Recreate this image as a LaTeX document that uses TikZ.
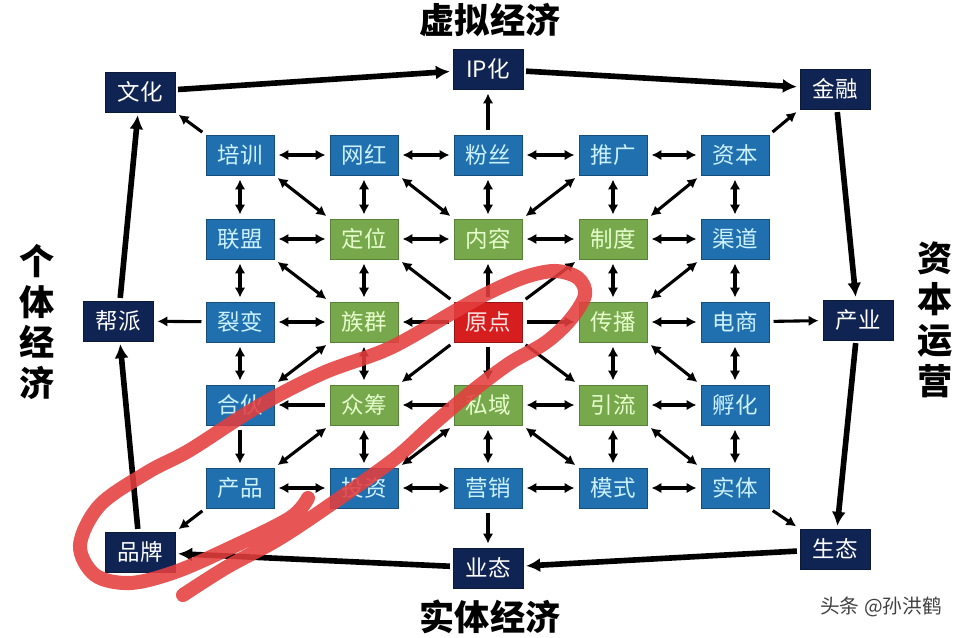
\documentclass[tikz,border=0pt]{standalone}
\usepackage{fontspec}
\setmainfont{Noto Sans CJK SC}
\usetikzlibrary{arrows.meta}

\definecolor{navyfill}{RGB}{16,36,84}
\definecolor{bluefill}{RGB}{32,112,176}
\definecolor{greenfill}{RGB}{120,168,76}
\definecolor{greenedge}{RGB}{88,130,56}
\definecolor{redfill}{RGB}{214,30,30}
\definecolor{bluetext}{RGB}{205,242,255}
\definecolor{greentext}{RGB}{230,255,205}
\definecolor{scribblered}{RGB}{228,62,62}

\tikzset{
  cell/.style={minimum width=1.7cm,minimum height=1cm,inner sep=0pt,
    font=\fontsize{16}{18}\selectfont},
  outerbox/.style={cell,minimum width=1.75cm,fill=navyfill,draw=navyfill!70!black,text=white},
  bluebox/.style={cell,fill=bluefill,draw=bluefill!70!black,text=bluetext},
  greenbox/.style={cell,fill=greenfill,draw=greenedge,text=greentext},
  redbox/.style={cell,fill=redfill,draw=redfill!70!black,text=white!90!red},
  link/.style={<->,line width=2.2pt,shorten >=3pt,shorten <=3pt},
  feed/.style={->,line width=2.2pt,shorten >=3pt,shorten <=3pt},
  ring/.style={-{Latex[length=10pt,width=10pt]},line width=4pt,shorten >=2pt,shorten <=2pt},
  title/.style={font=\bfseries\fontsize{25}{29}\selectfont,align=center},
  scribble/.style={scribblered,opacity=0.88,line width=10pt,line cap=round,line join=round}
}

\begin{document}
\begin{tikzpicture}[>={Latex[length=7pt,width=7.5pt]},x=0.025cm,y=-0.025cm]
    \useasboundingbox (0,0) rectangle (976,638);

    % titles
    \node[title] (virtual) at (490,20) {虚拟经济};
    \node[title] (real) at (490,617) {实体经济};
    \node[title] (personal) at (37,322) {个\\体\\经\\济};
    \node[title] (capital) at (935,320) {资\\本\\运\\营};
    \node[font=\fontsize{14}{16}\selectfont,text=black!75] (mark) at (881,607) {头条 @孙洪鹤};

    % outer ring
    \node[outerbox] (wenhua) at (140,92) {文化};
    \node[outerbox] (iphua) at (488,69) {IP化};
    \node[outerbox] (jinrong) at (835,89) {金融};
    \node[outerbox] (bangpai) at (118,321) {帮派};
    \node[outerbox] (chanye) at (858,320) {产业};
    \node[outerbox] (pinpai) at (140,552) {品牌};
    \node[outerbox] (yetai) at (488,568) {业态};
    \node[outerbox] (shengtai) at (835,549) {生态};

    % grid, row by row
    \node[bluebox] (peixun) at (240,155) {培训};
    \node[bluebox] (wanghong) at (364,155) {网红};
    \node[bluebox] (fensi) at (488,155) {粉丝};
    \node[bluebox] (tuiguang) at (613,155) {推广};
    \node[bluebox] (ziben) at (735,155) {资本};

    \node[bluebox] (lianmeng) at (240,239) {联盟};
    \node[greenbox] (dingwei) at (364,239) {定位};
    \node[greenbox] (neirong) at (488,239) {内容};
    \node[greenbox] (zhidu) at (613,239) {制度};
    \node[bluebox] (qudao) at (735,239) {渠道};

    \node[bluebox] (liebian) at (240,322) {裂变};
    \node[greenbox] (zuqun) at (364,322) {族群};
    \node[redbox] (yuandian) at (488,322) {原点};
    \node[greenbox] (chuanbo) at (613,322) {传播};
    \node[bluebox] (dianshang) at (735,322) {电商};

    \node[bluebox] (hehuo) at (240,405) {合伙};
    \node[greenbox] (zhongchou) at (364,405) {众筹};
    \node[greenbox] (siyu) at (488,405) {私域};
    \node[greenbox] (yinliu) at (613,405) {引流};
    \node[bluebox] (fuhua) at (735,405) {孵化};

    \node[bluebox] (chanpin) at (240,488) {产品};
    \node[bluebox] (touzi) at (364,488) {投资};
    \node[bluebox] (yingxiao) at (488,488) {营销};
    \node[bluebox] (moshi) at (613,488) {模式};
    \node[bluebox] (shiti) at (735,488) {实体};

    % both ways
    \foreach \a/\b in {peixun/wanghong,wanghong/fensi,fensi/tuiguang,tuiguang/ziben,
        lianmeng/dingwei,dingwei/neirong,neirong/zhidu,zhidu/qudao,
        liebian/zuqun,chuanbo/dianshang,siyu/yinliu,yinliu/fuhua,
        chanpin/touzi,touzi/yingxiao,yingxiao/moshi,moshi/shiti,
        peixun/lianmeng,wanghong/dingwei,fensi/neirong,tuiguang/zhidu,ziben/qudao,
        lianmeng/liebian,dingwei/zuqun,zhidu/chuanbo,qudao/dianshang,
        liebian/hehuo,zuqun/zhongchou,chuanbo/yinliu,dianshang/fuhua,
        zhongchou/touzi,siyu/yingxiao,yinliu/moshi,fuhua/shiti}
        \draw[link] (\a) -- (\b);
    \foreach \a/\b in {peixun.south east/dingwei.north west,
        wanghong.south east/neirong.north west,
        tuiguang.south west/neirong.north east,
        ziben.south west/zhidu.north east,
        lianmeng.south east/zuqun.north west,
        qudao.south west/chuanbo.north east,
        zuqun.south west/hehuo.north east,
        chuanbo.south east/fuhua.north west,
        zhongchou.south west/chanpin.north east,
        siyu.south west/touzi.north east,
        siyu.south east/moshi.north west,
        yinliu.south east/shiti.north west}
        \draw[link] (\a) -- (\b);

    % one way
    \foreach \a/\b in {yuandian/zuqun,yuandian/chuanbo,yuandian/neirong,yuandian/siyu,
        zhongchou/hehuo,siyu/zhongchou,hehuo/chanpin,
        liebian/bangpai,dianshang/chanye,fensi/iphua,yingxiao/yetai,
        yuandian.north west/dingwei.south east,
        yuandian.north east/zhidu.south west,
        yuandian.south west/zhongchou.north east,
        yuandian.south east/yinliu.north west,
        peixun.north west/wenhua.south east,
        ziben.north east/jinrong.south west,
        chanpin.south west/pinpai.north east,
        shiti.south east/shengtai.north west}
        \draw[feed] (\a) -- (\b);

    % outer ring
    \draw[ring] (wenhua) -- (iphua);
    \draw[ring] (iphua) -- (jinrong);
    \draw[ring] (jinrong) -- (chanye);
    \draw[ring] (chanye) -- (shengtai);
    \draw[ring] (shengtai) -- (yetai);
    \draw[ring] (yetai) -- (pinpai);
    \draw[ring] (pinpai) -- (bangpai);
    \draw[ring] (bangpai) -- (wenhua);

    % red hand mark
    \draw[scribble] plot[smooth,tension=0.55] coordinates {(183,595) (227,567) (277,540)
        (327,507) (393,460) (430,427) (470,393) (510,363) (545,343) (570,320)
        (585,295) (578,278) (555,271) (525,277) (490,292) (457,310) (390,348)
        (323,373) (257,407) (190,450) (148,472) (100,505) (80,545) (95,575)
        (130,583) (175,572) (230,548) (290,518) (308,498)};
\end{tikzpicture}
\end{document}
